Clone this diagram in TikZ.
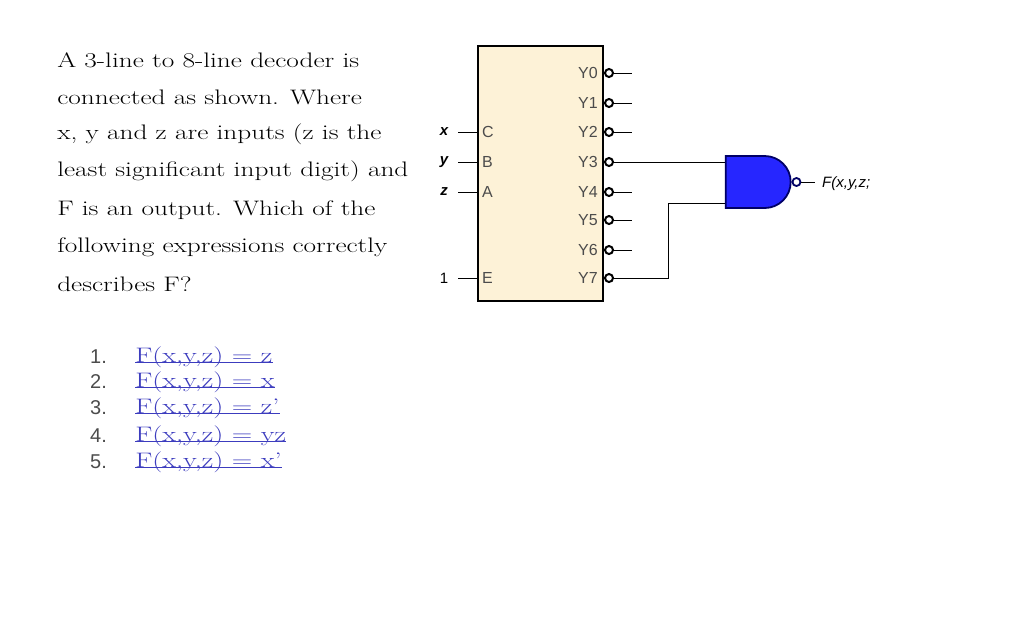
\documentclass[tikz,border=0pt]{standalone}
\usepackage{fontspec}
\newfontfamily\arial{Liberation Sans}
\usetikzlibrary{shapes.gates.logic.US}
\definecolor{lnk}{RGB}{60,60,190}
\definecolor{boxfill}{RGB}{253,242,215}
\begin{document}
\begin{tikzpicture}[x=1pt,y=-1pt,
  para/.style={anchor=west,inner sep=0,xscale=1.3,font=\fontsize{21}{21}\selectfont},
  pin/.style={font=\arial\fontsize{16}{16}\selectfont,text=black!70,inner sep=0},
  num/.style={anchor=west,inner sep=0,font=\arial\fontsize{20}{20}\selectfont,text=black!70},
  lk/.style={anchor=west,inner sep=0,xscale=1.35,font=\fontsize{21}{21}\selectfont,text=lnk},
  wire/.style={line width=1pt},
  bub/.style={circle,draw,line width=2pt,minimum size=8pt,inner sep=0}]
\useasboundingbox (0,0) rectangle (1024,625);
\node[para] (l1) at (57,60) {A 3-line to 8-line decoder is};
\node[para] (l2) at (57,97) {connected as shown. Where};
\node[para] (l3) at (57,134) {x, y and z are inputs (z is the};
\node[para] (l4) at (57,171) {least significant input digit) and};
\node[para] (l5) at (57,210) {F is an output. Which of the};
\node[para] (l6) at (57,247) {following expressions correctly};
\node[para] (l7) at (57,284) {describes F?};
% decoder
\node[draw,line width=2pt,fill=boxfill,minimum width=125,minimum height=255,anchor=north west,inner sep=0] (dec) at (477,45) {};
\foreach \n/\y in {0/73,1/103,2/132,3/162,4/192,5/220,6/250,7/278}{
  \node[pin,anchor=east] (y\n) at (598,\y) {Y\n};
  \node[bub] (b\n) at (609,\y) {};
}
\foreach \n in {0,1,2,4,5,6}{ \coordinate (e\n) at (632,0|-b\n); \draw[wire] (b\n) -- (e\n); }
\foreach \t/\y/\l/\s/\f in {C/132/x/1/\bfseries\itshape,B/162/y/2/\bfseries\itshape,A/192/z/3/\bfseries\itshape,E/278/1/4/{}}{
  \node[pin,anchor=west] (p\s) at (482,\y) {\t};
  \node[inner sep=0,font=\arial\f\fontsize{15}{15}\selectfont] (in\s) at (444,\y) {\l};
  \coordinate (s\s) at (458,\y);
  \draw[wire] (s\s) -- (477,\y);
}
% gate
\node[and gate US,draw=blue!40!black,line width=1.8pt,fill=blue!85!white,minimum width=48,minimum height=52,inner sep=0] (g) at (756,182) {};
\node[circle,draw=blue!40!black,line width=1.8pt,fill=white,minimum size=8pt,inner sep=0,anchor=west] (gb) at (g.east) {};
\coordinate (gi1) at (g.west|-0,162);
\coordinate (gi2) at (g.west|-0,203);
\draw[wire] (b3) -- (gi1);
\draw[wire] (b7) -- (668,278) |- (gi2);
\coordinate (gout) at (815,182);
\draw[wire] (gb) -- (gout);
\node[anchor=west,inner sep=0,font=\arial\itshape\fontsize{15}{15}\selectfont] (f) at (822,184) {F(x,y,z;};
% list
\foreach \i/\y/\t in {1/357/z,2/382/x,3/408/z',4/436/yz,5/462/x'}{
  \node[num] (n\i) at (90,\y) {\i.};
  \node[lk] (a\i) at (135,\y) {F(x,y,z) = \t};
  \draw[lnk,line width=1pt] ([yshift=5]a\i.south west) -- ([yshift=5]a\i.south east);
}
\end{tikzpicture}
\end{document}
